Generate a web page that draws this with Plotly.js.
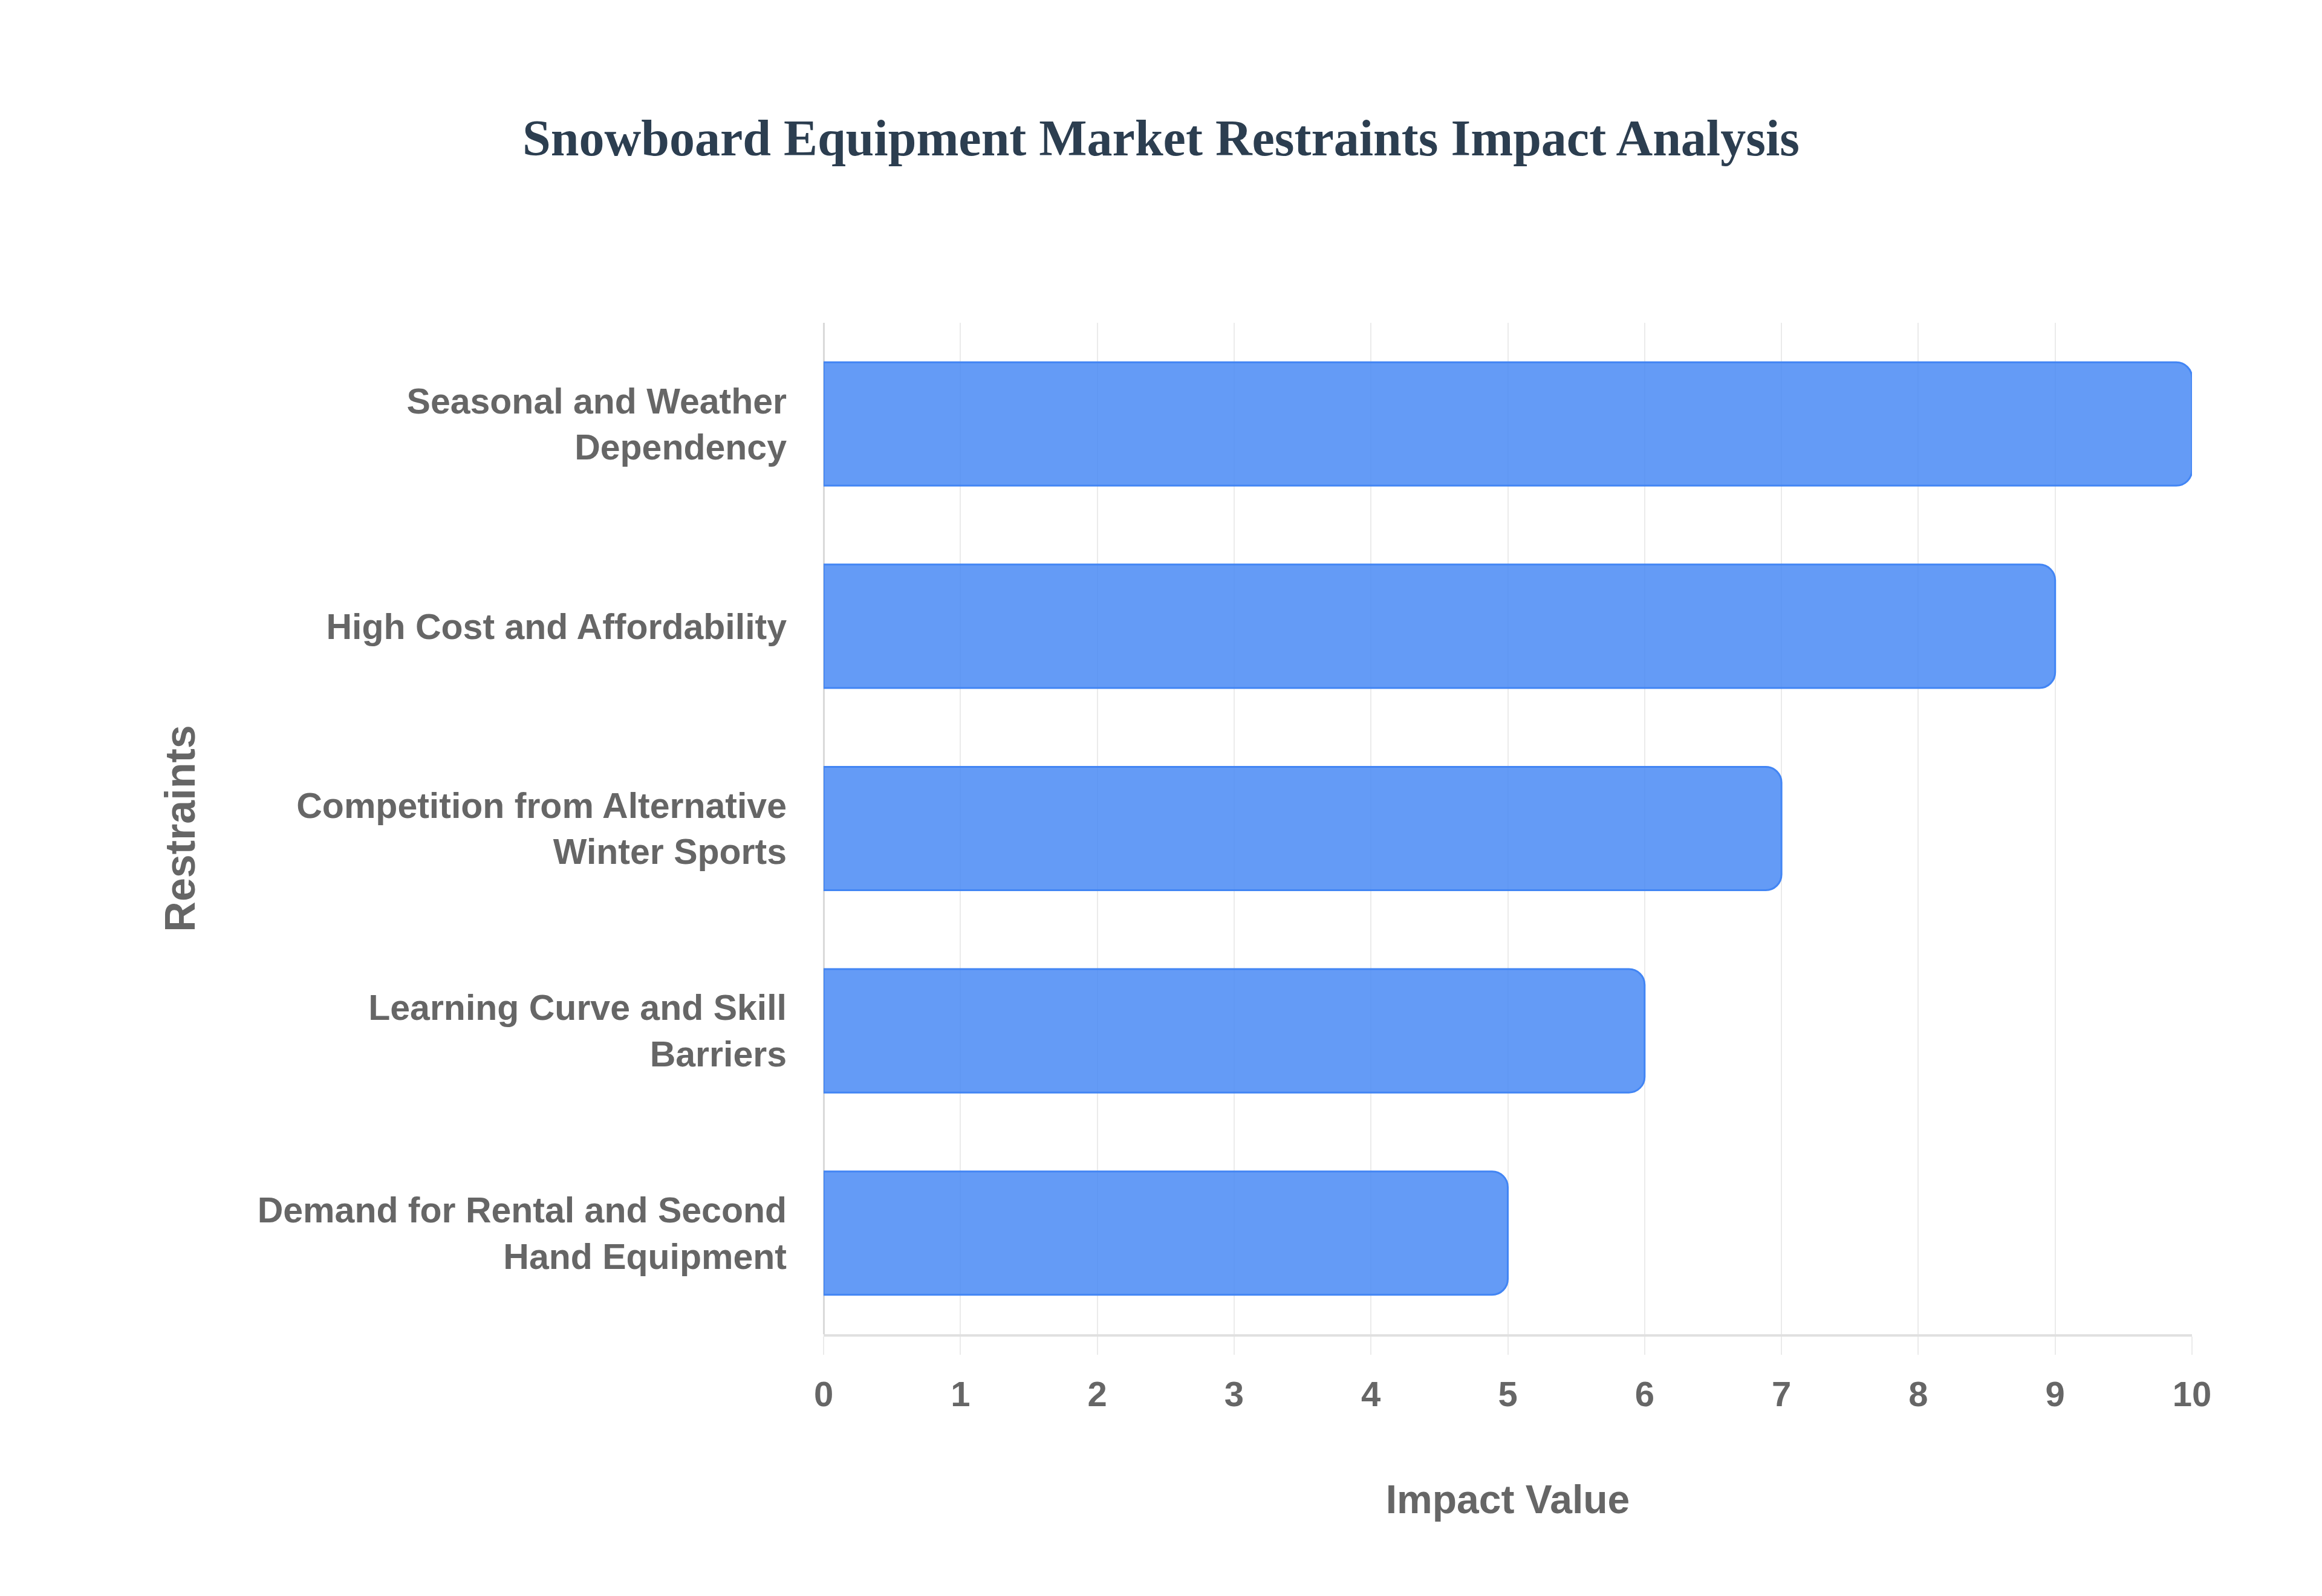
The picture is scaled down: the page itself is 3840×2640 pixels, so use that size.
<!DOCTYPE html>
<html>
<head>
<meta charset="utf-8">
<script src="https://cdn.plot.ly/plotly-3.0.1.min.js"></script>
<style>html,body{margin:0;padding:0;background:#fff;}</style>
</head>
<body>
<div id="chart" style="width:3840px;height:2640px;"></div>
<script>
const categories = [
  "Demand for Rental and Second<br>Hand Equipment",
  "Learning Curve and Skill<br>Barriers",
  "Competition from Alternative<br>Winter Sports",
  "High Cost and Affordability",
  "Seasonal and Weather<br>Dependency"
];
const impactValues = [5, 6, 7, 9, 10];
const xTickValues = [0, 1, 2, 3, 4, 5, 6, 7, 8, 9, 10];

const trace = {
  type: "bar",
  orientation: "h",
  y: categories,
  x: impactValues,
  marker: {
    color: "rgba(66,133,244,0.82)",
    line: {color: "#4285f4", width: 3},
    cornerradius: 26
  },
  hoverinfo: "x+y"
};

const yTickFont = {family: "Liberation Sans, Arial, sans-serif", size: 59, color: "#666666", weight: "bold"};
const xTickFont = {family: "Liberation Sans, Arial, sans-serif", size: 58, color: "#666666", weight: "bold"};
const xTitleFont = {family: "Liberation Sans, Arial, sans-serif", size: 66, color: "#666666", weight: "bold"};
const yTitleFont = {family: "Liberation Sans, Arial, sans-serif", size: 70, color: "#666666", weight: "bold"};

const layout = {
  width: 3840,
  height: 2640,
  paper_bgcolor: "#ffffff",
  plot_bgcolor: "#ffffff",
  margin: {l: 1362, r: 215, t: 534, b: 433, autoexpand: false},
  bargap: 0.39,
  showlegend: false,
  title: {
    text: "Snowboard Equipment Market Restraints Impact Analysis",
    font: {family: "Liberation Serif, Times New Roman, serif", size: 84, color: "#2c3e50", weight: "bold"},
    x: 0.5, xanchor: "center", xref: "container",
    y: 0.9136, yanchor: "middle", yref: "container"
  },
  xaxis: {
    range: [0, 10],
    tickvals: xTickValues,
    ticktext: xTickValues.map(String),
    tickfont: xTickFont,
    showgrid: true,
    gridcolor: "#ebebeb",
    gridwidth: 2,
    zeroline: true,
    zerolinecolor: "#d9d9d9",
    zerolinewidth: 3,
    showline: true,
    linecolor: "#e0e0e0",
    linewidth: 4,
    ticks: "outside",
    ticklen: 30,
    tickwidth: 2,
    tickcolor: "#ebebeb",
    ticklabelstandoff: 15,
    title: {text: "Impact Value", font: xTitleFont, standoff: 121},
    automargin: false
  },
  yaxis: {
    type: "category",
    tickfont: yTickFont,
    showgrid: false,
    zeroline: false,
    showline: false,
    ticks: "",
    ticklabelstandoff: 60,
    title: {text: "Restraints", font: yTitleFont, standoff: 80},
    automargin: false
  }
};

Plotly.newPlot("chart", [trace], layout, {displayModeBar: false, responsive: false});
</script>
</body>
</html>
